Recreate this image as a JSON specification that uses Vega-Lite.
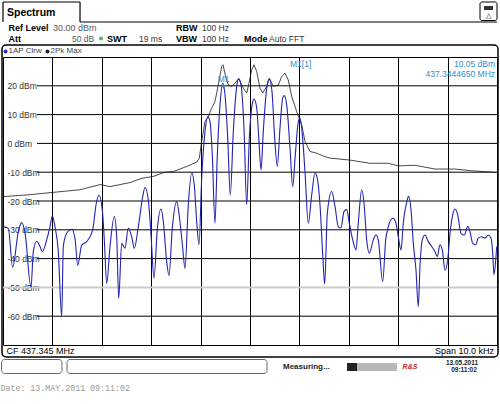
{
  "$schema": "https://vega.github.io/schema/vega-lite/v6.json",
  "width": 494,
  "height": 288,
  "autosize": {"type": "none"},
  "padding": {"left": 3, "top": 57, "right": 3, "bottom": 59},
  "background": "#ffffff",
  "config": {"view": {"stroke": "#000000", "strokeWidth": 1}, "font": "Liberation Sans", "axis": {"labelOverlap": false}},
  "resolve": {"axis": {"x": "independent", "y": "independent"}},
  "data": {"values": [{}]},
  "datasets": {
    "trace1": [
      {"f":-5.0,"level":-28.9},{"f":-4.893,"level":-29.5},{"f":-4.804,"level":-43},{"f":-4.69,"level":-30.6},{"f":-4.621,"level":-27.5},{"f":-4.555,"level":-31},{"f":-4.433,"level":-50},{"f":-4.387,"level":-37.6},{"f":-4.318,"level":-34},{"f":-4.251,"level":-35.8},{"f":-4.204,"level":-37.6},{"f":-4.115,"level":-33.5},{"f":-4.049,"level":-29},{"f":-4.002,"level":-25.2},{"f":-3.947,"level":-29},{"f":-3.881,"level":-37.4},{"f":-3.812,"level":-60.2},{"f":-3.779,"level":-35.8},{"f":-3.711,"level":-31.2},{"f":-3.609,"level":-29.8},{"f":-3.543,"level":-33},{"f":-3.488,"level":-42.3},{"f":-3.407,"level":-35.3},{"f":-3.306,"level":-34.1},{"f":-3.184,"level":-30},{"f":-3.117,"level":-21.3},{"f":-3.057,"level":-17.9},{"f":-2.99,"level":-23},{"f":-2.949,"level":-33.5},{"f":-2.901,"level":-48.6},{"f":-2.834,"level":-35.8},{"f":-2.747,"level":-25.4},{"f":-2.698,"level":-32.4},{"f":-2.658,"level":-53.8},{"f":-2.597,"level":-34.7},{"f":-2.53,"level":-36.4},{"f":-2.464,"level":-29.4},{"f":-2.395,"level":-32.4},{"f":-2.342,"level":-36.4},{"f":-2.261,"level":-29},{"f":-2.172,"level":-18.5},{"f":-2.126,"level":-15.3},{"f":-2.059,"level":-19.6},{"f":-2.01,"level":-30},{"f":-1.943,"level":-46.8},{"f":-1.877,"level":-30},{"f":-1.802,"level":-22.8},{"f":-1.755,"level":-27},{"f":-1.686,"level":-41},{"f":-1.64,"level":-45.9},{"f":-1.573,"level":-29.4},{"f":-1.484,"level":-20.2},{"f":-1.417,"level":-27.2},{"f":-1.362,"level":-36.4},{"f":-1.316,"level":-43.4},{"f":-1.249,"level":-21.3},{"f":-1.18,"level":-10.3},{"f":-1.128,"level":-14.4},{"f":-1.079,"level":-27.2},{"f":-1.032,"level":-35.2},{"f":-0.978,"level":-12.1},{"f":-0.911,"level":4.1},{"f":-0.856,"level":9.3},{"f":-0.81,"level":7.6},{"f":-0.763,"level":-4},{"f":-0.709,"level":-27.7},{"f":-0.662,"level":-4},{"f":-0.607,"level":13.4},{"f":-0.553,"level":20.9},{"f":-0.506,"level":16.9},{"f":-0.451,"level":1.8},{"f":-0.399,"level":-17.9},{"f":-0.338,"level":4.1},{"f":-0.269,"level":19.8},{"f":-0.229,"level":22.4},{"f":-0.182,"level":20.3},{"f":-0.121,"level":5},{"f":-0.067,"level":-21.3},{"f":-0.014,"level":1.8},{"f":0.055,"level":14.5},{"f":0.081,"level":15.4},{"f":0.136,"level":12.3},{"f":0.182,"level":0.7},{"f":0.223,"level":-9.2},{"f":0.269,"level":4.1},{"f":0.338,"level":19.2},{"f":0.391,"level":22.4},{"f":0.445,"level":18},{"f":0.492,"level":4.1},{"f":0.553,"level":-8},{"f":0.607,"level":5.3},{"f":0.662,"level":15.7},{"f":0.694,"level":16.6},{"f":0.743,"level":13.4},{"f":0.81,"level":-1.7},{"f":0.864,"level":-15},{"f":0.917,"level":-4},{"f":0.978,"level":7.6},{"f":1.012,"level":8.8},{"f":1.047,"level":5.3},{"f":1.113,"level":-9.8},{"f":1.18,"level":-27.7},{"f":1.249,"level":-17.9},{"f":1.316,"level":-10.3},{"f":1.362,"level":-12.1},{"f":1.417,"level":-21.3},{"f":1.472,"level":-38.7},{"f":1.512,"level":-48.8},{"f":1.565,"level":-24.2},{"f":1.654,"level":-16.7},{"f":1.721,"level":-21.9},{"f":1.787,"level":-28.9},{"f":1.842,"level":-29.4},{"f":1.903,"level":-23.6},{"f":1.957,"level":-23},{"f":2.01,"level":-27.7},{"f":2.079,"level":-33.5},{"f":2.146,"level":-37},{"f":2.192,"level":-27.7},{"f":2.261,"level":-16.1},{"f":2.308,"level":-20.8},{"f":2.362,"level":-33.5},{"f":2.415,"level":-38.1},{"f":2.496,"level":-33.5},{"f":2.551,"level":-31.8},{"f":2.597,"level":-33.5},{"f":2.686,"level":-48},{"f":2.747,"level":-33.5},{"f":2.8,"level":-28.9},{"f":2.889,"level":-26},{"f":2.955,"level":-27.7},{"f":3.002,"level":-32.4},{"f":3.057,"level":-37},{"f":3.103,"level":-27.7},{"f":3.184,"level":-19.6},{"f":3.209,"level":-18.3},{"f":3.259,"level":-23},{"f":3.306,"level":-34.7},{"f":3.36,"level":-44},{"f":3.407,"level":-56.7},{"f":3.441,"level":-42.6},{"f":3.488,"level":-33.5},{"f":3.543,"level":-31.8},{"f":3.609,"level":-34.1},{"f":3.678,"level":-35.8},{"f":3.745,"level":-37.6},{"f":3.791,"level":-39.3},{"f":3.846,"level":-35.2},{"f":3.893,"level":-37},{"f":3.947,"level":-44},{"f":4.002,"level":-40.5},{"f":4.049,"level":-31.2},{"f":4.103,"level":-24.8},{"f":4.15,"level":-22.8},{"f":4.204,"level":-24.8},{"f":4.271,"level":-31.2},{"f":4.338,"level":-31.8},{"f":4.407,"level":-28.9},{"f":4.453,"level":-30.6},{"f":4.508,"level":-34.7},{"f":4.569,"level":-35.2},{"f":4.621,"level":-32.9},{"f":4.69,"level":-32.4},{"f":4.757,"level":-32.9},{"f":4.824,"level":-31.8},{"f":4.879,"level":-32.9},{"f":4.913,"level":-38.1},{"f":4.939,"level":-45.6},{"f":4.974,"level":-40.5},{"f":4.994,"level":-35.8}
    ],
    "trace2": [
      {"f":-5.0,"level":-18.5},{"f":-4.453,"level":-17.8},{"f":-3.988,"level":-17},{"f":-3.441,"level":-16.1},{"f":-3.036,"level":-14.3},{"f":-2.834,"level":-15},{"f":-2.429,"level":-13.6},{"f":-2.186,"level":-12.1},{"f":-1.964,"level":-11.5},{"f":-1.721,"level":-10},{"f":-1.553,"level":-9.8},{"f":-1.281,"level":-8},{"f":-1.079,"level":-6.5},{"f":-1.026,"level":-5.1},{"f":-0.978,"level":0.7},{"f":-0.911,"level":7.6},{"f":-0.844,"level":9.3},{"f":-0.775,"level":12.3},{"f":-0.709,"level":14.5},{"f":-0.642,"level":20.3},{"f":-0.573,"level":26.7},{"f":-0.547,"level":27.3},{"f":-0.486,"level":22.7},{"f":-0.439,"level":20.3},{"f":-0.37,"level":19.8},{"f":-0.304,"level":20.9},{"f":-0.229,"level":22.5},{"f":-0.136,"level":19.2},{"f":-0.067,"level":17.5},{"f":-0.034,"level":19.8},{"f":0.034,"level":25.5},{"f":0.081,"level":27.3},{"f":0.136,"level":25},{"f":0.202,"level":19.2},{"f":0.257,"level":17.5},{"f":0.338,"level":19.8},{"f":0.395,"level":22.5},{"f":0.472,"level":19.8},{"f":0.573,"level":20.3},{"f":0.642,"level":23.2},{"f":0.709,"level":24.4},{"f":0.775,"level":22},{"f":0.844,"level":16.3},{"f":0.945,"level":11.1},{"f":1.047,"level":6.4},{"f":1.113,"level":0.7},{"f":1.215,"level":-2.8},{"f":1.35,"level":-3.4},{"f":1.484,"level":-4.4},{"f":1.619,"level":-5.1},{"f":2.024,"level":-5.8},{"f":2.429,"level":-6.9},{"f":2.8,"level":-6.9},{"f":3.002,"level":-7.8},{"f":3.34,"level":-7.6},{"f":3.745,"level":-8.9},{"f":4.15,"level":-8.9},{"f":4.488,"level":-9.5},{"f":5.0,"level":-10.1}
    ],
    "gridLevels": [{"level":20},{"level":10},{"level":0},{"level":-10},{"level":-20},{"level":-30},{"level":-40},{"level":-50},{"level":-60}],
    "markers": [{"name":"M1","f":-0.535,"level":19.5}]
  },
  "layer": [
    {"mark":{"type":"rect","fill":"#ffffff","fillOpacity":0,"stroke":"#000000","strokeWidth":1.5,"cornerRadius":4},
     "encoding":{"x":{"datum":-5.02,"axis":null},"x2":{"datum":5.02},"y":{"datum":34.17,"axis":null},"y2":{"datum":-74.17}}},
    {"mark":{"type":"rule","color":"#000000","strokeWidth":1.2},"encoding":{"x":{"datum":-5.0,"axis":null},"y":{"datum":49.1,"axis":null},"y2":{"datum":42.15}}},
    {"mark":{"type":"rule","color":"#000000","strokeWidth":1.2},"encoding":{"y":{"datum":49.1,"axis":null},"x":{"datum":-5.0,"axis":null},"x2":{"datum":-3.441}}},
    {"mark":{"type":"rule","color":"#000000","strokeWidth":1.2},"encoding":{"x":{"datum":-3.441,"axis":null},"y":{"datum":49.1,"axis":null},"y2":{"datum":42.15}}},
    {"mark":{"type":"rule","color":"#000000","strokeWidth":1.2},"encoding":{"y":{"datum":42.15,"axis":null},"x":{"datum":-3.441,"axis":null},"x2":{"datum":5.0}}},
    {"mark":{"type":"rect","fill":"#ffffff","stroke":"#000000","strokeWidth":1,"cornerRadius":2},
     "encoding":{"x":{"datum":4.656,"axis":null},"x2":{"datum":5.0},"y":{"datum":49.1,"axis":null},"y2":{"datum":42.67}}},
    {"mark":{"type":"rect","fill":"#333333"},"encoding":{"x":{"datum":4.737,"axis":null},"x2":{"datum":4.919},"y":{"datum":47.71,"axis":null},"y2":{"datum":46.32}}},
    {"mark":{"type":"text","text":"△","align":"center","baseline":"middle","fontSize":7,"color":"#000000"},"encoding":{"x":{"datum":4.828,"axis":null},"y":{"datum":44.4,"axis":null}}},

    {"data":{"name":"gridLevels"},"transform":[{"filter":"datum.level != -50"}],
     "mark":{"type":"rule","color":"#000000","strokeWidth":1},
     "encoding":{"y":{"field":"level","type":"quantitative","axis":null},"x":{"datum":-4.312,"axis":null},"x2":{"datum":5.0}}},
    {"data":{"name":"gridLevels"},"transform":[{"filter":"datum.level == -50"}],
     "mark":{"type":"rule","color":"#cccccc","strokeWidth":2},
     "encoding":{"y":{"field":"level","type":"quantitative","axis":null},"x":{"datum":-5.0,"axis":null},"x2":{"datum":5.0}}},

    {"data":{"name":"trace2"},
     "mark":{"type":"line","color":"#1a1a1a","strokeWidth":0.8},
     "encoding":{"x":{"field":"f","type":"quantitative","axis":null},"y":{"field":"level","type":"quantitative","axis":null}}},
    {"data":{"name":"trace1"},
     "mark":{"type":"line","color":"#2222b4","strokeWidth":1.1,"interpolate":"monotone"},
     "encoding":{
       "x":{"field":"f","type":"quantitative","scale":{"domain":[-5,5],"nice":false,"zero":false},
            "axis":{"orient":"bottom","title":null,"grid":true,"gridColor":"#000000","gridOpacity":1,"gridWidth":1,"labels":false,"ticks":false,"domain":false,"values":[-4,-3,-2,-1,0,1,2,3,4]}},
       "y":{"field":"level","type":"quantitative","scale":{"domain":[-70,30],"nice":false,"zero":false},
            "axis":{"orient":"left","title":null,"grid":false,"ticks":false,"domain":false,"values":[20,10,0,-10,-20,-30,-40,-50,-60],
                    "labelExpr":"datum.value + ' dBm'","labelAlign":"left","labelBaseline":"middle","labelPadding":-4,
                    "labelFontSize":8.5,"labelColor":"#333333","labelFont":"Liberation Sans","labelFlush":false,"labelOverlap":false,"labelBound":false}}
     }},

    {"data":{"name":"markers"},"mark":{"type":"point","shape":"triangle-down","filled":true,"size":22,"color":"#2e8fd0","opacity":1},
     "encoding":{"x":{"field":"f","type":"quantitative","axis":null},"y":{"field":"level","type":"quantitative","axis":null}}},
    {"data":{"name":"markers"},"mark":{"type":"text","dy":-8,"fontSize":8.5,"color":"#2e8fd0","align":"center","baseline":"middle"},
     "encoding":{"x":{"field":"f","type":"quantitative","axis":null},"y":{"field":"level","type":"quantitative","axis":null},"text":{"field":"name"}}},

    {"mark":{"type":"text","text":"Spectrum","align":"left","baseline":"middle","fontSize":10.5,"fontWeight":"bold","color":"#000000"},"encoding":{"x":{"datum":-4.919,"axis":null},"y":{"datum":45.28,"axis":null}}},
    {"mark":{"type":"text","text":"Ref Level","align":"left","baseline":"middle","fontSize":9,"fontWeight":"bold","color":"#000000"},"encoding":{"x":{"datum":-4.889,"axis":null},"y":{"datum":40.24,"axis":null}}},
    {"mark":{"type":"text","text":"30.00 dBm","align":"left","baseline":"middle","fontSize":9,"color":"#555555"},"encoding":{"x":{"datum":-3.988,"axis":null},"y":{"datum":40.24,"axis":null}}},
    {"mark":{"type":"text","text":"RBW","align":"left","baseline":"middle","fontSize":9,"fontWeight":"bold","color":"#000000"},"encoding":{"x":{"datum":-1.498,"axis":null},"y":{"datum":40.24,"axis":null}}},
    {"mark":{"type":"text","text":"100 Hz","align":"left","baseline":"middle","fontSize":8.5,"color":"#333333"},"encoding":{"x":{"datum":-0.972,"axis":null},"y":{"datum":40.24,"axis":null}}},
    {"mark":{"type":"text","text":"Att","align":"left","baseline":"middle","fontSize":9,"fontWeight":"bold","color":"#000000"},"encoding":{"x":{"datum":-4.889,"axis":null},"y":{"datum":36.42,"axis":null}}},
    {"mark":{"type":"text","text":"50 dB","align":"left","baseline":"middle","fontSize":8.5,"color":"#555555"},"encoding":{"x":{"datum":-3.603,"axis":null},"y":{"datum":36.42,"axis":null}}},
    {"mark":{"type":"point","shape":"circle","filled":true,"size":16,"color":"#55b855","opacity":1},"encoding":{"x":{"datum":-3.016,"axis":null},"y":{"datum":36.42,"axis":null}}},
    {"mark":{"type":"text","text":"SWT","align":"left","baseline":"middle","fontSize":9,"fontWeight":"bold","color":"#000000"},"encoding":{"x":{"datum":-2.895,"axis":null},"y":{"datum":36.42,"axis":null}}},
    {"mark":{"type":"text","text":"19 ms","align":"left","baseline":"middle","fontSize":8.5,"color":"#333333"},"encoding":{"x":{"datum":-2.247,"axis":null},"y":{"datum":36.42,"axis":null}}},
    {"mark":{"type":"text","text":"VBW","align":"left","baseline":"middle","fontSize":9,"fontWeight":"bold","color":"#000000"},"encoding":{"x":{"datum":-1.498,"axis":null},"y":{"datum":36.42,"axis":null}}},
    {"mark":{"type":"text","text":"100 Hz","align":"left","baseline":"middle","fontSize":8.5,"color":"#333333"},"encoding":{"x":{"datum":-0.972,"axis":null},"y":{"datum":36.42,"axis":null}}},
    {"mark":{"type":"text","text":"Mode","align":"left","baseline":"middle","fontSize":9,"fontWeight":"bold","color":"#000000"},"encoding":{"x":{"datum":-0.121,"axis":null},"y":{"datum":36.42,"axis":null}}},
    {"mark":{"type":"text","text":"Auto FFT","align":"left","baseline":"middle","fontSize":8.5,"color":"#333333"},"encoding":{"x":{"datum":0.385,"axis":null},"y":{"datum":36.42,"axis":null}}},

    {"mark":{"type":"point","shape":"circle","filled":true,"size":16,"color":"#2233cc","opacity":1},"encoding":{"x":{"datum":-4.949,"axis":null},"y":{"datum":31.91,"axis":null}}},
    {"mark":{"type":"text","text":"1AP Clrw","align":"left","baseline":"middle","fontSize":8,"color":"#444444"},"encoding":{"x":{"datum":-4.889,"axis":null},"y":{"datum":31.91,"axis":null}}},
    {"mark":{"type":"point","shape":"circle","filled":true,"size":16,"color":"#222222","opacity":1},"encoding":{"x":{"datum":-4.099,"axis":null},"y":{"datum":31.91,"axis":null}}},
    {"mark":{"type":"text","text":"2Pk Max","align":"left","baseline":"middle","fontSize":8,"color":"#444444"},"encoding":{"x":{"datum":-4.038,"axis":null},"y":{"datum":31.91,"axis":null}}},

    {"mark":{"type":"text","text":"M1[1]","align":"left","baseline":"middle","fontSize":8.5,"color":"#2e8fd0"},"encoding":{"x":{"datum":0.81,"axis":null},"y":{"datum":27.57,"axis":null}}},
    {"mark":{"type":"text","text":"10.05 dBm","align":"right","baseline":"middle","fontSize":8.5,"color":"#2e8fd0"},"encoding":{"x":{"datum":4.96,"axis":null},"y":{"datum":27.57,"axis":null}}},
    {"mark":{"type":"text","text":"437.3444650 MHz","align":"right","baseline":"middle","fontSize":8.5,"color":"#2e8fd0"},"encoding":{"x":{"datum":4.96,"axis":null},"y":{"datum":24.1,"axis":null}}},

    {"mark":{"type":"text","text":"CF 437.345 MHz","align":"left","baseline":"middle","fontSize":9,"color":"#000000"},"encoding":{"x":{"datum":-4.929,"axis":null},"y":{"datum":-72.08,"axis":null}}},
    {"mark":{"type":"text","text":"Span 10.0 kHz","align":"right","baseline":"middle","fontSize":9,"color":"#000000"},"encoding":{"x":{"datum":4.939,"axis":null},"y":{"datum":-72.08,"axis":null}}},

    {"mark":{"type":"rect","fill":"#ffffff","stroke":"#666666","strokeWidth":1,"cornerRadius":3},"encoding":{"x":{"datum":-5.03,"axis":null},"x2":{"datum":-3.806},"y":{"datum":-75.03,"axis":null},"y2":{"datum":-79.9}}},
    {"mark":{"type":"rect","fill":"#ffffff","stroke":"#666666","strokeWidth":1,"cornerRadius":3},"encoding":{"x":{"datum":-3.704,"axis":null},"x2":{"datum":0.344},"y":{"datum":-75.03,"axis":null},"y2":{"datum":-79.9}}},
    {"mark":{"type":"text","text":"Measuring...","align":"left","baseline":"middle","fontSize":8,"fontWeight":"bold","color":"#222222"},"encoding":{"x":{"datum":0.668,"axis":null},"y":{"datum":-77.47,"axis":null}}},
    {"mark":{"type":"rect","fill":"#b8b8b8"},"encoding":{"x":{"datum":1.964,"axis":null},"x2":{"datum":2.976},"y":{"datum":-76.25,"axis":null},"y2":{"datum":-79.03}}},
    {"mark":{"type":"rect","fill":"#222222"},"encoding":{"x":{"datum":1.964,"axis":null},"x2":{"datum":2.166},"y":{"datum":-76.25,"axis":null},"y2":{"datum":-79.03}}},
    {"mark":{"type":"text","text":"R&S","align":"center","baseline":"middle","fontSize":7,"fontWeight":"bold","fontStyle":"italic","color":"#cc2222"},"encoding":{"x":{"datum":3.239,"axis":null},"y":{"datum":-77.47,"axis":null}}},
    {"mark":{"type":"text","text":"13.05.2011","align":"center","baseline":"middle","fontSize":6.5,"fontWeight":"bold","color":"#222222"},"encoding":{"x":{"datum":4.291,"axis":null},"y":{"datum":-76.42,"axis":null}}},
    {"mark":{"type":"text","text":"09:11:02","align":"center","baseline":"middle","fontSize":6.5,"fontWeight":"bold","color":"#222222"},"encoding":{"x":{"datum":4.332,"axis":null},"y":{"datum":-78.68,"axis":null}}},

    {"mark":{"type":"text","text":"Date: 13.MAY.2011  09:11:02","align":"left","baseline":"middle","fontSize":8.3,"font":"Liberation Mono","color":"#999999"},"encoding":{"x":{"datum":-5.051,"axis":null},"y":{"datum":-85.45,"axis":null}}}
  ]
}
